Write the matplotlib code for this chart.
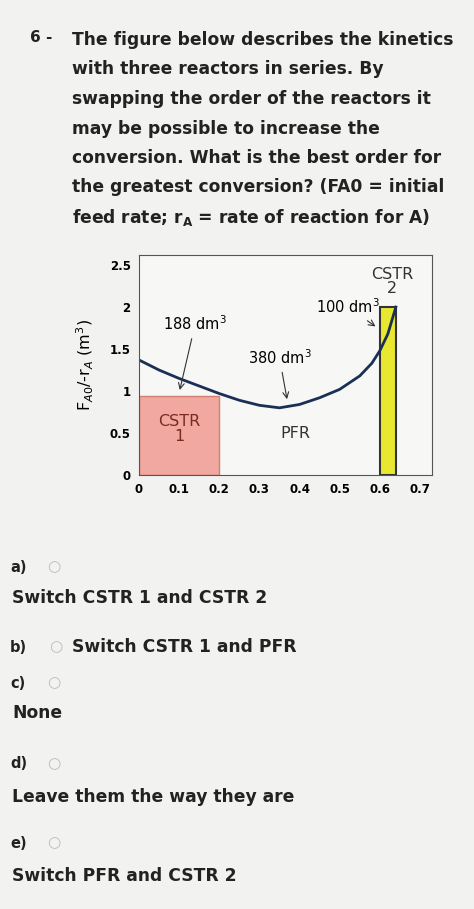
import numpy as np
import matplotlib.pyplot as plt

# curve values
x_curve = [0.0, 0.05, 0.1, 0.15, 0.2, 0.25, 0.3, 0.35, 0.4, 0.45, 0.5, 0.55, 0.58, 0.6, 0.62, 0.64]
y_curve = [1.37, 1.25, 1.15, 1.06, 0.97, 0.89, 0.83, 0.80, 0.84, 0.92, 1.02, 1.18, 1.33, 1.48, 1.68, 2.0]
cstr1 = (0.0, 0.2, 0.94)
cstr2 = (0.6, 0.64, 2.0)
xticks = [0, 0.1, 0.2, 0.3, 0.4, 0.5, 0.6, 0.7]
yticks = [0, 0.5, 1, 1.5, 2, 2.5]

question = ["The figure below describes the kinetics",
            "with three reactors in series. By",
            "swapping the order of the reactors it",
            "may be possible to increase the",
            "conversion. What is the best order for",
            "the greatest conversion? (FA0 = initial",
            "feed rate; r$_\\mathregular{A}$ = rate of reaction for A)"]

fig = plt.figure(figsize=(4.74, 9.09), dpi=100)
fig.patch.set_facecolor('#f2f2f0')

def put(x, y, s, **kw):
    fig.text(x / 474, 1 - y / 909, s, va='center', ha='left',
             fontsize=kw.pop('fontsize', 12.3), fontweight='bold', color='#222222', **kw)

put(30, 38, "6 -", fontsize=11)
for i, line in enumerate(question):
    put(72, 40 + i * 29.5, line)

for y, s in [(567, "a)"), (647, "b)"), (683, "c)"), (764, "d)"), (843, "e)")]:
    put(10, y, s, fontsize=10.5)
    fig.text(54 / 474 if s != "b)" else 56 / 474, 1 - y / 909, "○", fontsize=11,
             color='#bbbbbb', va='center', ha='center')
put(12, 598, "Switch CSTR 1 and CSTR 2")
put(72, 647, "Switch CSTR 1 and PFR")
put(12, 713, "None")
put(12, 797, "Leave them the way they are")
put(12, 876, "Switch PFR and CSTR 2")

ax = fig.add_axes([139 / 474, 1 - 475 / 909, 293 / 474, 220 / 909])
ax.set_facecolor('#f7f7f5')
ax.set_xlim(0, 0.73)
ax.set_ylim(0, 2.62)
ax.set_xticks(xticks)
ax.set_xticklabels(['0', '0.1', '0.2', '0.3', '0.4', '0.5', '0.6', '0.7'])
ax.set_yticks(yticks)
ax.set_yticklabels(['0', '0.5', '1', '1.5', '2', '2.5'])
ax.tick_params(length=0, labelsize=8.5, pad=6)
for t in ax.get_xticklabels() + ax.get_yticklabels():
    t.set_fontweight('bold')
for sp in ax.spines.values():
    sp.set_color('#555555')

ax.add_patch(plt.Rectangle((cstr1[0], 0), cstr1[1] - cstr1[0], cstr1[2],
                           facecolor='#f0a8a0', edgecolor='#d08070'))
ax.add_patch(plt.Rectangle((cstr2[0], 0), cstr2[1] - cstr2[0], cstr2[2],
                           facecolor='#e8e830', edgecolor='#333333', lw=1.5))
ax.plot(x_curve, y_curve, color='#1a2f55', lw=2)

ax.text(0.1, 0.55, "CSTR\n1", ha='center', va='center', fontsize=11.5,
        color='#7a2a20', linespacing=1.0)
ax.text(0.39, 0.5, "PFR", ha='center', va='center', fontsize=11.5, color='#333333')
ax.text(0.63, 2.3, "CSTR\n2", ha='center', va='center', fontsize=11.5,
        color='#333333', linespacing=0.9)
ax.annotate("188 dm$^3$", xy=(0.1, 0.98), xytext=(0.14, 1.8), ha='center', va='center',
            fontsize=10.5, arrowprops=dict(arrowstyle='->', color='#333333', lw=0.8))
ax.annotate("380 dm$^3$", xy=(0.37, 0.87), xytext=(0.35, 1.4), ha='center', va='center',
            fontsize=10.5, arrowprops=dict(arrowstyle='->', color='#333333', lw=0.8))
ax.annotate("100 dm$^3$", xy=(0.595, 1.75), xytext=(0.52, 2.0), ha='center', va='center',
            fontsize=10.5, arrowprops=dict(arrowstyle='->', color='#333333', lw=0.8))
ax.set_ylabel("F$_{A0}$/-r$_A$ (m$^3$)", fontsize=11.5, labelpad=10)

fig.savefig("out.png", dpi=100, facecolor=fig.get_facecolor())
